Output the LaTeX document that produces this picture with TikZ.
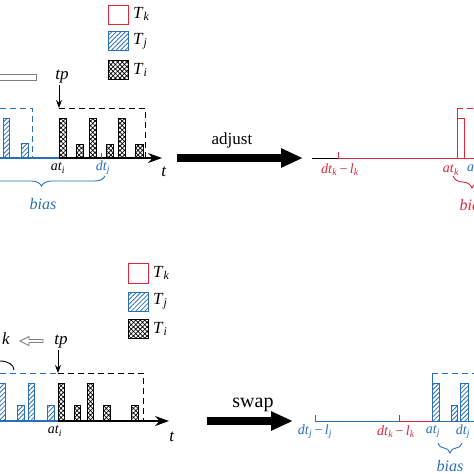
\documentclass[tikz,border=0pt]{standalone}
\usepackage{fontspec}
\setmainfont{Liberation Serif}
\usetikzlibrary{patterns,patterns.meta,arrows.meta,decorations.pathreplacing}
\definecolor{rc}{RGB}{222,40,58}
\definecolor{bc}{RGB}{40,110,185}
\newcommand{\lb}[2]{\textit{#1}\textsubscript{\textit{#2}}}
\begin{document}
\begin{tikzpicture}[x=1pt,y=-1pt,
  bbar/.style={draw=bc, pattern={Lines[angle=45,distance=3.2pt,line width=0.8pt]}, pattern color=bc, line width=1},
  kbar/.style={draw=black, pattern={Hatch[angle=45,distance=3.2pt,line width=0.7pt]}, pattern color=black, line width=1},
  rbox/.style={draw=rc, line width=1},
  axis/.style={line width=1.2},
  dsh/.style={dashed, dash pattern=on 6pt off 4pt, line width=1},
  lg/.style={font=\fontsize{17}{19}\selectfont, anchor=west, inner sep=0},
  al/.style={font=\fontsize{14}{16}\selectfont, inner sep=0},
  bigar/.style={line width=8, -{Triangle[length=22pt,width=18pt]}},
  brc/.style={decorate, decoration={brace, mirror, amplitude=#1}, line width=0.9},
  hollow/.style={draw=gray, fill=white, line width=0.9}]
\useasboundingbox (0,0) rectangle (474,474);
\clip (0,0) rectangle (474,474);

% ================= TOP PANEL =================
% legend
\draw[rbox] (108,5) rectangle (128,24);
\node[lg] (tk1) at (133,14) {\lb{T}{k}};
\draw[bbar] (108,31) rectangle (128,50);
\node[lg] (tj1) at (133,41) {\lb{T}{j}};
\draw[kbar] (108,60) rectangle (128,79);
\node[lg] (ti1) at (133,70) {\lb{T}{i}};

% hollow bar (clipped arrow)
\draw[hollow] (-10,74) rectangle (36,80);

% tp arrow
\node[font=\fontsize{17}{19}\selectfont, inner sep=1] (tp1) at (62,77) {\textit{tp}};
\coordinate (tpa1) at (59,108);
\draw[line width=1, -{Stealth[length=8pt,width=6pt]}] (tp1.south -| tpa1) -- (tpa1);

% dashed boxes
\draw[bc, dsh] (-10,108) -- (32,108) -- (32,158);
\draw[dsh] (59,108) -- (145,108) -- (145,158);

% bars
\draw[bbar] (3,118) rectangle (9,158);
\draw[bbar] (21,143) rectangle (28,158);
\draw[kbar] (59,118) rectangle (66,158);
\draw[kbar] (76,144) rectangle (83,158);
\draw[kbar] (89,118) rectangle (96,158);
\draw[kbar] (106,144) rectangle (113,158);
\draw[kbar] (118,118) rectangle (125,158);
\draw[kbar] (135,144) rectangle (143,158);

% axis
\coordinate (ax1a) at (-10,158);
\coordinate (ax1b) at (59,158);
\coordinate (ax1c) at (162,158);
\draw[bc, axis] (ax1a) -- (ax1b);
\draw[axis, -{Stealth[length=14pt,width=10pt]}] (ax1b) -- (ax1c);
\draw[bc, line width=1] (101,153) -- (101,158);
\node[al] (ati1) at (58,168) {\lb{at}{i}};
\node[al, bc] (dtj1) at (103,168) {\lb{dt}{j}};
\node[font=\fontsize{17}{19}\selectfont, inner sep=0] (t1) at (164,172) {\textit{t}};

% brace bias
\draw[bc, brc=10] (-22,176) -- (105,176);
\node[bc, font=\fontsize{16}{18}\selectfont, inner sep=0] (bias1) at (43,204) {\textit{bias}};

% adjust arrow
\coordinate (adjA) at (177,158);
\coordinate (adjB) at (303,158);
\draw[bigar] (adjA) -- (adjB);
\node[font=\fontsize{17}{19}\selectfont, inner sep=0] (adj) at (232,140) {adjust};

% right top
\coordinate (rt1a) at (312,158);
\coordinate (rt1b) at (338,158);
\coordinate (rt1c) at (480,158);
\draw[line width=1] (rt1a) -- (rt1b);
\draw[rc, line width=1] (rt1b) -- (rt1c);
\draw[rc, line width=1] (338,152) -- (338,158);
\node[al, rc] (dtk1) at (340,170) {\lb{dt}{k}\,−\,\lb{l}{k}};
\node[al, rc] (atk1) at (451,170) {\lb{at}{k}};
\node[al, bc, anchor=west] (atj1) at (467,170) {\lb{at}{j}};
\draw[rc, line width=1] (457,158) -- (457,108);
\draw[rc, dsh] (457,108) -- (480,108);
\draw[rbox] (457,118) rectangle (464,158);
\draw[rc, brc=12] (453,176) -- (491,176);
\node[rc, font=\fontsize{16}{18}\selectfont, inner sep=0] (bias2) at (473,205) {\textit{bias}};

% ================= BOTTOM PANEL =================
\draw[rbox] (128,263) rectangle (148,283);
\node[lg] (tk2) at (153,273) {\lb{T}{k}};
\draw[bbar] (128,292) rectangle (148,311);
\node[lg] (tj2) at (153,301) {\lb{T}{j}};
\draw[kbar] (128,319) rectangle (148,338);
\node[lg] (ti2) at (153,329) {\lb{T}{i}};

\node[font=\fontsize{17}{19}\selectfont, inner sep=0] (k2) at (6,339) {\textit{k}};
\draw[hollow] (20,341) -- (29,336.5) -- (29,339.5) -- (43,339.5) -- (43,342.5) -- (29,342.5) -- (29,345.5) -- cycle;

\node[font=\fontsize{17}{19}\selectfont, inner sep=1] (tp2) at (61,342) {\textit{tp}};
\coordinate (tpa2) at (58,373);
\draw[line width=1, -{Stealth[length=8pt,width=6pt]}] (tp2.south -| tpa2) -- (tpa2);

\draw[line width=0.9] (0,361) .. controls (8,361) and (14,365) .. (14,370);

\draw[bc, dsh] (-10,373) -- (58,373);
\draw[dsh] (58,373) -- (143,373) -- (143,421);

\draw[bbar] (-3,383) rectangle (5,421);
\draw[bbar] (17,405) rectangle (24,421);
\draw[bbar] (28,383) rectangle (34,421);
\draw[bbar] (47,405) rectangle (54,421);
\draw[kbar] (58,383) rectangle (64,421);
\draw[kbar] (74,405) rectangle (80,421);
\draw[kbar] (87,383) rectangle (93,421);
\draw[kbar] (103,405) rectangle (110,421);
\draw[kbar] (131,405) rectangle (138,421);

\coordinate (ax2a) at (-10,421);
\coordinate (ax2b) at (58,421);
\coordinate (ax2c) at (169,421);
\draw[bc, axis] (ax2a) -- (ax2b);
\draw[axis, -{Stealth[length=14pt,width=10pt]}] (ax2b) -- (ax2c);
\node[al] (ati2) at (55,431) {\lb{at}{i}};
\node[font=\fontsize{17}{19}\selectfont, inner sep=0] (t2) at (172,437) {\textit{t}};

% swap arrow
\coordinate (swA) at (207,421);
\coordinate (swB) at (293,421);
\draw[bigar] (swA) -- (swB);
\node[font=\fontsize{20}{22}\selectfont, inner sep=0] (swap) at (253,405) {swap};

% right bottom
\coordinate (rb1) at (315,421);
\coordinate (rb2) at (399,421);
\coordinate (rb3) at (432,421);
\coordinate (rb4) at (480,421);
\draw[bc, line width=1] (rb1) -- (rb2);
\draw[rc, line width=1] (rb2) -- (rb3);
\draw[bc, line width=1] (rb3) -- (rb4);
\draw[bc, line width=1] (315,415) -- (315,421);
\draw[rc, line width=1] (399,415) -- (399,421);
\node[al, bc] (dtj2) at (315,432) {\lb{dt}{j}\,−\,\lb{l}{j}};
\node[al, rc] (dtk2) at (396,432) {\lb{dt}{k}\,−\,\lb{l}{k}};
\node[al, bc] (atj2) at (433,432) {\lb{at}{j}};
\node[al, bc] (dtj3) at (463,432) {\lb{dt}{j}};
\draw[bc, line width=1] (432,421) -- (432,373);
\draw[bc, dsh] (432,373) -- (480,373);
\draw[bbar] (432,383) rectangle (439,421);
\draw[bbar] (451,405) rectangle (457,421);
\draw[bbar] (460,383) rectangle (468,421);
\draw[bc, brc=10] (438,443) -- (462,443);
\node[bc, font=\fontsize{16}{18}\selectfont, inner sep=0] (bias3) at (450,466) {\textit{bias}};
\end{tikzpicture}
\end{document}
